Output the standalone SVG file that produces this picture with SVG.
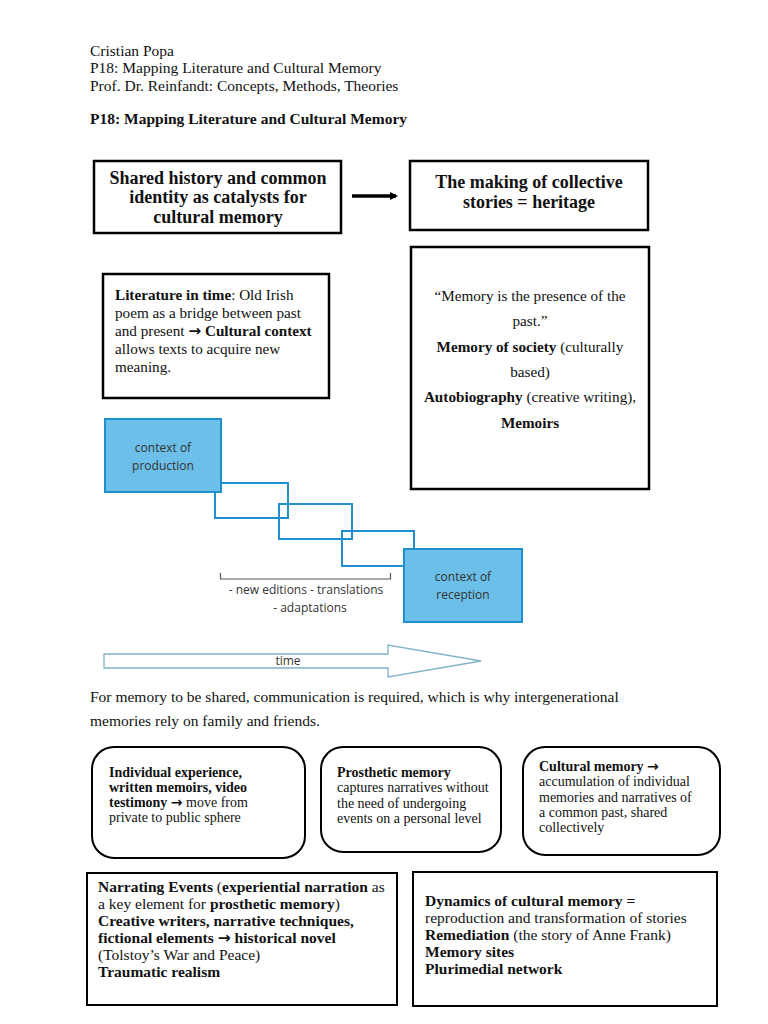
<svg xmlns="http://www.w3.org/2000/svg" width="768" height="1024" viewBox="0 0 768 1024">
<style>
text{font-family:"Liberation Serif","Times New Roman",serif;fill:#111}
.h{font-size:15.5px}
.b{font-weight:bold}
.ar{font-family:"DejaVu Sans",sans-serif;font-weight:bold;font-size:1em}
.t1{font-size:18px;font-weight:bold}
.t2{font-size:15.2px}
.t3{font-size:14px}
.t4{font-size:15.5px}
.box{fill:#fff;stroke:#000;stroke-width:2.5}
.rbox{fill:#fff;stroke:#000;stroke-width:2}
.blue{fill:#6cbfe8;stroke:#1f8fce;stroke-width:2}
.ol{fill:none;stroke:#1f8fce;stroke-width:2}
.sans{font-family:"Open Sans","Noto Sans",sans-serif;font-size:12px;fill:#333}
</style>
<defs>
<marker id="ah" markerWidth="8" markerHeight="8" refX="6" refY="4" orient="auto" markerUnits="userSpaceOnUse"><path d="M0,0 L8,4 L0,8 z" fill="#000"/></marker>
</defs>
<rect width="768" height="1024" fill="#fff"/>
<g id="header">
<text class="h" x="90" y="56">Cristian Popa</text>
<text class="h" x="90" y="73">P18: Mapping Literature and Cultural Memory</text>
<text class="h" x="90" y="91">Prof. Dr. Reinfandt: Concepts, Methods, Theories</text>
<text class="h b" x="90" y="124">P18: Mapping Literature and Cultural Memory</text>
</g>
<g id="connectors">
<line x1="352" y1="196" x2="396" y2="196" stroke="#000" stroke-width="3.5" marker-end="url(#ah)"/>
</g>
<g id="shared-history">
<rect class="box" x="94" y="161" width="247" height="72"/>
<text class="t1" text-anchor="middle" x="218" y="184">Shared history and common</text>
<text class="t1" text-anchor="middle" x="218" y="203">identity as catalysts for</text>
<text class="t1" text-anchor="middle" x="218" y="223">cultural memory</text>
</g>
<g id="collective-stories">
<rect class="box" x="410" y="161" width="238" height="69"/>
<text class="t1" text-anchor="middle" x="529" y="188">The making of collective</text>
<text class="t1" text-anchor="middle" x="529" y="208">stories = heritage</text>
</g>
<g id="literature-in-time">
<rect class="box" x="103" y="274" width="226" height="124"/>
<text class="t2" x="115" y="300"><tspan class="b">Literature in time</tspan>: Old Irish</text>
<text class="t2" x="115" y="318">poem as a bridge between past</text>
<text class="t2" x="115" y="336">and present <tspan class="ar">→</tspan> <tspan class="b">Cultural context</tspan></text>
<text class="t2" x="115" y="354">allows texts to acquire new</text>
<text class="t2" x="115" y="372">meaning.</text>
</g>
<g id="memory-quote">
<rect class="box" x="411" y="247" width="238" height="242"/>
<text class="t2" text-anchor="middle" x="530" y="301">“Memory is the presence of the</text>
<text class="t2" text-anchor="middle" x="530" y="326">past.”</text>
<text class="t2" text-anchor="middle" x="530" y="352"><tspan class="b">Memory of society</tspan> (culturally</text>
<text class="t2" text-anchor="middle" x="530" y="377">based)</text>
<text class="t2" text-anchor="middle" x="530" y="402"><tspan class="b">Autobiography</tspan> (creative writing),</text>
<text class="t2 b" text-anchor="middle" x="530" y="428">Memoirs</text>
</g>
<g id="context-diagram">
<rect class="ol" x="215" y="483" width="73" height="35"/>
<rect class="ol" x="279" y="504" width="73" height="35"/>
<rect class="ol" x="342" y="531" width="72" height="35"/>
<rect class="blue" x="105" y="419" width="116" height="73"/>
<text class="sans" text-anchor="middle" x="163" y="452">context of</text>
<text class="sans" text-anchor="middle" x="163" y="470">production</text>
<rect class="blue" x="404" y="549" width="118" height="73"/>
<text class="sans" text-anchor="middle" x="463" y="581">context of</text>
<text class="sans" text-anchor="middle" x="463" y="599">reception</text>
<path d="M220.5,573 V579 H390.5 V573" fill="none" stroke="#555" stroke-width="1.2"/>
<text class="sans" text-anchor="middle" x="306" y="594">- new editions - translations</text>
<text class="sans" text-anchor="middle" x="310" y="612">- adaptations</text>
</g>
<g id="time-arrow">
<path d="M104,654 H388 V645 L481,661 L388,677 V668 H104 Z" fill="#fff" stroke="#7fb3c8" stroke-width="1.3"/>
<text class="sans" text-anchor="middle" x="288" y="665">time</text>
</g>
<g id="paragraph">
<text class="t4" x="90" y="702">For memory to be shared, communication is required, which is why intergenerational</text>
<text class="t4" x="90" y="726">memories rely on family and friends.</text>
</g>
<g id="individual-experience">
<rect class="rbox" x="92" y="747" width="213" height="111" rx="22"/>
<text class="t3" x="109" y="777"><tspan class="b">Individual experience,</tspan></text>
<text class="t3" x="109" y="792"><tspan class="b">written memoirs, video</tspan></text>
<text class="t3" x="109" y="807"><tspan class="b">testimony</tspan> <tspan class="ar">→</tspan> move from</text>
<text class="t3" x="109" y="822">private to public sphere</text>
</g>
<g id="prosthetic-memory">
<rect class="rbox" x="321" y="747" width="180" height="105" rx="22"/>
<text class="t3 b" x="337" y="777">Prosthetic memory</text>
<text class="t3" x="337" y="792">captures narratives without</text>
<text class="t3" x="337" y="808">the need of undergoing</text>
<text class="t3" x="337" y="823">events on a personal level</text>
</g>
<g id="cultural-memory">
<rect class="rbox" x="523" y="747" width="197" height="108" rx="22"/>
<text class="t3" x="539" y="771"><tspan class="b">Cultural memory</tspan> <tspan class="ar">→</tspan></text>
<text class="t3" x="539" y="786">accumulation of individual</text>
<text class="t3" x="539" y="802">memories and narratives of</text>
<text class="t3" x="539" y="817">a common past, shared</text>
<text class="t3" x="539" y="832">collectively</text>
</g>
<g id="narrating-events">
<rect class="rbox" x="87" y="873" width="310" height="132"/>
<text class="t4" x="98" y="892"><tspan class="b">Narrating Events</tspan> (<tspan class="b">experiential narration</tspan> as</text>
<text class="t4" x="98" y="909">a key element for <tspan class="b">prosthetic memory</tspan>)</text>
<text class="t4 b" x="98" y="926">Creative writers, narrative techniques,</text>
<text class="t4 b" x="98" y="943">fictional elements <tspan class="ar">→</tspan> historical novel</text>
<text class="t4" x="98" y="960">(Tolstoy’s War and Peace)</text>
<text class="t4 b" x="98" y="977">Traumatic realism</text>
</g>
<g id="dynamics">
<rect class="rbox" x="413" y="872" width="304" height="134"/>
<text class="t4 b" x="425" y="906">Dynamics of cultural memory =</text>
<text class="t4" x="425" y="923">reproduction and transformation of stories</text>
<text class="t4" x="425" y="940"><tspan class="b">Remediation</tspan> (the story of Anne Frank)</text>
<text class="t4 b" x="425" y="957">Memory sites</text>
<text class="t4 b" x="425" y="974">Plurimedial network</text>
</g>
</svg>
